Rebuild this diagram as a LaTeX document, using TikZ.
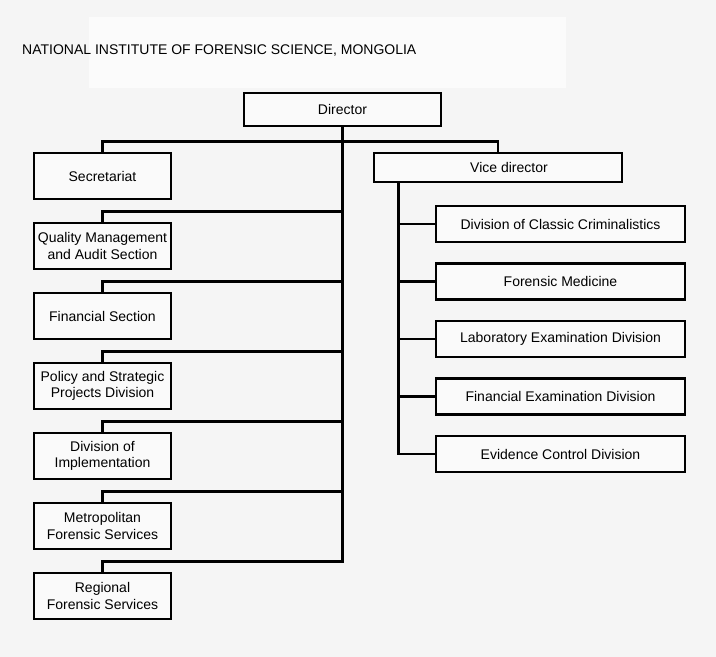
\documentclass[tikz,border=0pt]{standalone}
\usepackage{fontspec}
\setmainfont{Liberation Sans}
\usetikzlibrary{positioning,calc}
\definecolor{pagegray}{RGB}{245,245,245}
\definecolor{titlefill}{RGB}{251,251,251}
\definecolor{boxfill}{RGB}{250,250,250}

\begin{document}
\begin{tikzpicture}[x=1pt,y=-1pt,
    font=\fontsize{14}{16.5}\selectfont,
    unitbox/.style={draw=black, line width=2.6pt, fill=boxfill, align=center, inner sep=2pt},
    leftbox/.style={unitbox, minimum width=137pt, minimum height=46pt},
    rightbox/.style={unitbox, minimum width=249pt, minimum height=36pt},
    link/.style={line width=2.6pt}]
    % page and title
    \fill[pagegray] (0,0) rectangle (716,657);
    \useasboundingbox (0,0) rectangle (716,657);
    \fill[titlefill] (89,17) rectangle (566,88);
    \node[anchor=base west, inner sep=0pt] (title) at (22,54) {NATIONAL INSTITUTE OF FORENSIC SCIENCE, MONGOLIA};

    % heads
    \node[unitbox, minimum width=197pt, minimum height=33pt] (dir) at (342.5,109.5) {Director};
    \node[unitbox, minimum width=248pt, minimum height=29pt] (vice) at (498,167.5) {\hspace*{22pt}Vice director};

    % units under the director
    \node[leftbox] (sec) at (102.5,176) {Secretariat};
    \node[leftbox] (qms) at (102.5,246) {Quality Management\\and Audit Section};
    \node[leftbox] (fin) at (102.5,316) {Financial Section};
    \node[leftbox] (pol) at (102.5,386) {Policy and Strategic\\Projects Division};
    \node[leftbox] (imp) at (102.5,456) {Division of\\Implementation};
    \node[leftbox] (met) at (102.5,526) {Metropolitan\\Forensic Services};
    \node[leftbox] (reg) at (102.5,596) {Regional\\Forensic Services};

    % divisions under the vice director
    \node[rightbox] (crim) at (560.5,224) {Division of Classic Criminalistics};
    \node[rightbox] (med) at (560.5,281.5) {Forensic Medicine};
    \node[rightbox] (lab) at (560.5,339) {Laboratory Examination Division};
    \node[rightbox] (finex) at (560.5,396.5) {Financial Examination Division};
    \node[rightbox] (evid) at (560.5,454) {Evidence Control Division};

    % connectors
    \draw[link] (sec.north) -- ++(0,-10) -| (vice.north);
    \foreach \n in {qms,fin,pol,imp,met,reg}
        \draw[link] (\n.north) -- ++(0,-10) -| (dir.south);
    \coordinate (vspine) at ($(vice.south west)+(26,0)$);
    \foreach \n in {crim,med,lab,finex,evid}
        \draw[link] (\n.west) -| (vspine);
\end{tikzpicture}
\end{document}
